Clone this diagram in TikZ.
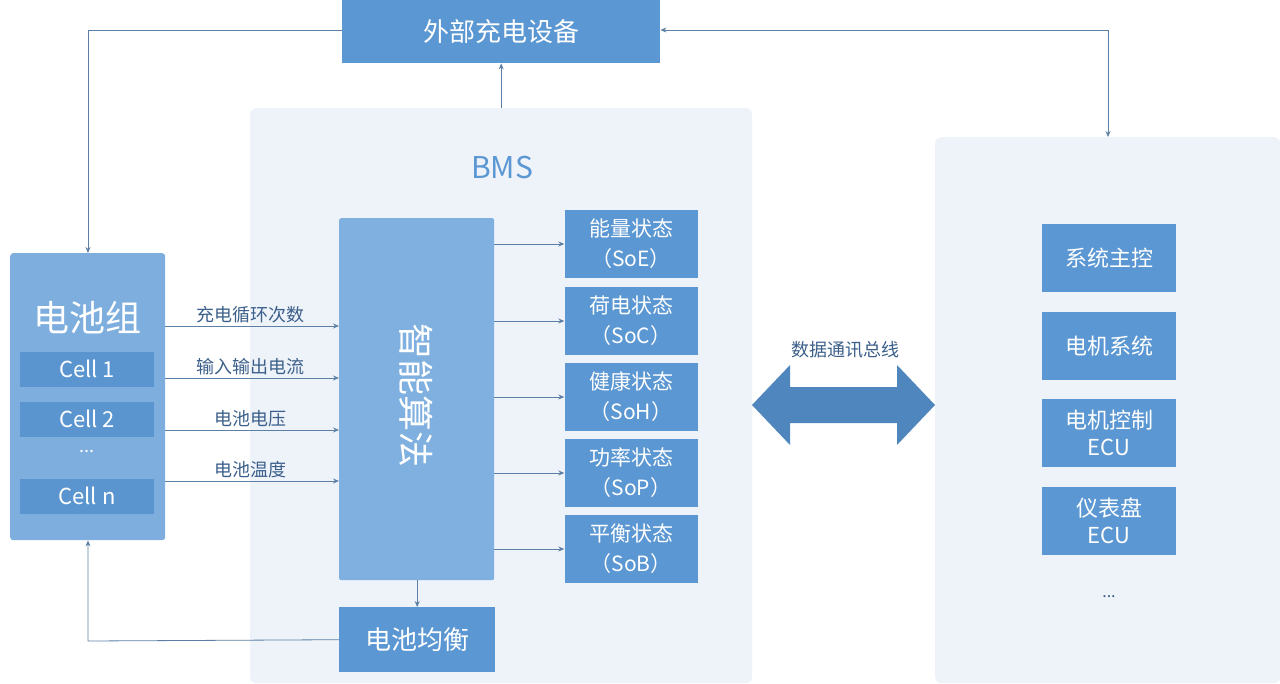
\documentclass[tikz,border=0pt]{standalone}
\usepackage{fontspec}
\setmainfont{Noto Sans CJK SC}
\usetikzlibrary{arrows.meta}
\definecolor{boxb}{HTML}{5B97D2}
\definecolor{algb}{HTML}{80B0DF}
\definecolor{panel}{HTML}{EEF3FA}
\definecolor{batt}{HTML}{7DAEDD}
\definecolor{cellb}{HTML}{5A95D0}
\definecolor{ln}{HTML}{5C7FA6}
\definecolor{txt}{HTML}{3B5F8A}
\definecolor{dab}{HTML}{4F86BE}
\begin{document}
\begin{tikzpicture}[x=1pt,y=-1pt,
  box/.style={fill=boxb,text=white,inner sep=0,align=center,font=\fontsize{22}{27}\selectfont},
  st/.style={box,minimum width=133,minimum height=68,font=\fontsize{21}{30}\selectfont},
  rb/.style={box,minimum width=134,minimum height=68},
  cell/.style={fill=cellb,text=white,minimum width=134,minimum height=35,inner sep=0,font=\fontsize{22}{24}\selectfont},
  ar/.style={draw=ln,line width=0.8,-{Stealth[length=6,width=5]}},
  lab/.style={text=txt,font=\fontsize{18}{20}\selectfont,inner sep=1}]
\useasboundingbox (0,0) rectangle (1280,683);
\node[fill=panel,rounded corners=6,minimum width=502,minimum height=575,anchor=north west,inner sep=0] (bms) at (250,108) {};
\node[fill=panel,rounded corners=6,minimum width=345,minimum height=546,anchor=north west,inner sep=0] (rp) at (935,137) {};
\node[text=boxb,font=\fontsize{30}{32}\selectfont] (bmsl) at (502,168) {BMS};
\node[box,minimum width=318,minimum height=63,anchor=north west,font=\fontsize{26}{30}\selectfont] (ext) at (342,0) {外部充电设备};
\node[fill=batt,rounded corners=3,minimum width=155,minimum height=287,anchor=north west,inner sep=0] (bat) at (10,253) {};
\node[text=white,font=\fontsize{36}{40}\selectfont] (batl) at (88,318) {电池组};
\node[cell] (c1) at (87,369) {Cell 1};
\node[cell] (c2) at (87,419) {Cell 2};
\node[text=white,font=\fontsize{18}{20}\selectfont] (cd) at (87,451) {...};
\node[cell] (cn) at (87,496) {Cell n};
\node[fill=algb,rounded corners=2,minimum width=155,minimum height=362,anchor=north west,inner sep=0] (alg) at (339,218) {};
\node[text=white,rotate=-90,font=\fontsize{36}{40}\selectfont] (algl) at (416,395) {智能算法};
\node[st] (s1) at (631,244) {能量状态\\（SoE）};
\node[st] (s2) at (631,321) {荷电状态\\（SoC）};
\node[st] (s3) at (631,397) {健康状态\\（SoH）};
\node[st] (s4) at (631,473) {功率状态\\（SoP）};
\node[st] (s5) at (631,549) {平衡状态\\（SoB）};
\node[box,minimum width=156,minimum height=65,anchor=north west,font=\fontsize{26}{30}\selectfont] (eq) at (339,607) {电池均衡};
\node[rb] (r1) at (1109,258) {系统主控};
\node[rb] (r2) at (1109,346) {电机系统};
\node[rb] (r3) at (1109,433) {电机控制\\ECU};
\node[rb] (r4) at (1109,521) {仪表盘\\ECU};
\node[text=txt,font=\fontsize{16}{18}\selectfont] (rd) at (1109,597) {...};
\fill[dab] (752,405) -- (790,365) -- (790,387) -- (897,387) -- (897,365) -- (935,405)
  -- (897,445) -- (897,423) -- (790,423) -- (790,445) -- cycle;
\node[lab] (dal) at (845,350) {数据通讯总线};
\foreach \y/\t in {326/充电循环次数,378/输入输出电流,430/电池电压,481/电池温度}{
  \coordinate (a\y) at (165,\y); \coordinate (b\y) at (339,\y);
  \draw[ar] (a\y) -- (b\y);
  \node[lab,anchor=south] at (250,\y-2) {\t};
}
\foreach \s in {s1,s2,s3,s4,s5}{\draw[ar] (alg.east |- \s.west) -- (\s.west);}
\draw[ar] (alg.south -| eq.north) -- (eq.north);
\coordinate (k1) at (88,641);
\draw[ar] (eq.west) -- (k1) -- (bat.south -| k1);
\coordinate (k2) at (88,30);
\draw[ar] (ext.west |- k2) -- (k2) -- (bat.north -| k2);
\draw[ar] (bms.north -| ext.south) -- (ext.south);
\coordinate (k3) at (1108,30);
\draw[ar,{Stealth[length=6,width=5]}-{Stealth[length=6,width=5]}] (ext.east |- k3) -- (k3) -- (rp.north -| k3);
\end{tikzpicture}
\end{document}
